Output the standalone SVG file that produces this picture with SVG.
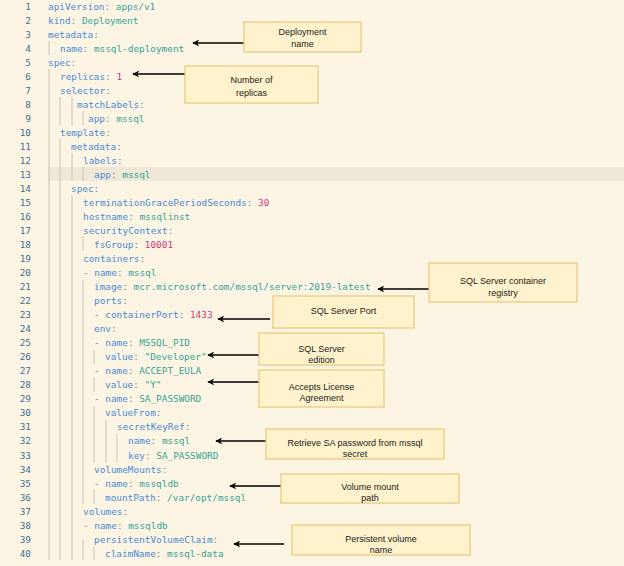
<svg xmlns="http://www.w3.org/2000/svg" width="624" height="566" viewBox="0 0 624 566">
<style>
.ln{font:9.4px "DejaVu Sans Mono",monospace;fill:#3f6f99;text-anchor:end}
.c{font:9.4px "DejaVu Sans Mono",monospace;fill:#7a8a8c}
.k{fill:#4a8ad4}.v{fill:#35a395}.n{fill:#d3367a}
.g{stroke:#c9c4b5;stroke-width:1}
.box{fill:#fff2cc;stroke:#e6c878;stroke-width:1.2}
.bt{font:9px "Liberation Sans",Arial,sans-serif;fill:#222;text-anchor:middle}
.ar{stroke:#000;stroke-width:1.5;fill:none;marker-end:url(#ah)}
</style>
<defs><marker id="ah" viewBox="0 0 10 10" refX="9" refY="5" markerWidth="7" markerHeight="7" markerUnits="userSpaceOnUse" orient="auto"><path d="M0,0L10,5L0,10L3,5Z" fill="#000"/></marker></defs>
<rect width="624" height="566" fill="#fcf5e3"/>
<rect x="48" y="167" width="576" height="14" fill="#efe8d6"/>
<g id="guides">
<line class="g" x1="49" y1="41" x2="49" y2="55"/>
<line class="g" x1="49" y1="69" x2="49" y2="560"/>
<line class="g" x1="60" y1="97" x2="60" y2="125"/>
<line class="g" x1="60" y1="139" x2="60" y2="560"/>
<line class="g" x1="72" y1="97" x2="72" y2="125"/>
<line class="g" x1="83" y1="111" x2="83" y2="125"/>
<line class="g" x1="72" y1="153" x2="72" y2="181"/>
<line class="g" x1="72" y1="195" x2="72" y2="560"/>
<line class="g" x1="83" y1="167" x2="83" y2="181"/>
<line class="g" x1="83" y1="237" x2="83" y2="251"/>
<line class="g" x1="83" y1="280" x2="83" y2="504"/>
<line class="g" x1="83" y1="540" x2="83" y2="560"/>
<line class="g" x1="94" y1="350" x2="94" y2="364"/>
<line class="g" x1="94" y1="378" x2="94" y2="392"/>
<line class="g" x1="94" y1="406" x2="94" y2="462"/>
<line class="g" x1="94" y1="490" x2="94" y2="504"/>
<line class="g" x1="94" y1="546" x2="94" y2="560"/>
<line class="g" x1="106" y1="420" x2="106" y2="462"/>
<line class="g" x1="117" y1="434" x2="117" y2="462"/>
</g>
<g id="linenumbers">
<text class="ln" x="31" y="9.5">1</text><text class="ln" x="31" y="23.5">2</text><text class="ln" x="31" y="37.6">3</text><text class="ln" x="31" y="51.6">4</text><text class="ln" x="31" y="65.6">5</text><text class="ln" x="31" y="79.7">6</text><text class="ln" x="31" y="93.7">7</text><text class="ln" x="31" y="107.7">8</text><text class="ln" x="31" y="121.7">9</text><text class="ln" x="31" y="135.8">10</text>
<text class="ln" x="31" y="149.8">11</text><text class="ln" x="31" y="163.8">12</text><text class="ln" x="31" y="177.9">13</text><text class="ln" x="31" y="191.9">14</text><text class="ln" x="31" y="205.9">15</text><text class="ln" x="31" y="219.9">16</text><text class="ln" x="31" y="234">17</text><text class="ln" x="31" y="248">18</text><text class="ln" x="31" y="262">19</text><text class="ln" x="31" y="276.1">20</text>
<text class="ln" x="31" y="290.1">21</text><text class="ln" x="31" y="304.1">22</text><text class="ln" x="31" y="318.2">23</text><text class="ln" x="31" y="332.2">24</text><text class="ln" x="31" y="346.2">25</text><text class="ln" x="31" y="360.3">26</text><text class="ln" x="31" y="374.3">27</text><text class="ln" x="31" y="388.3">28</text><text class="ln" x="31" y="402.3">29</text><text class="ln" x="31" y="416.4">30</text>
<text class="ln" x="31" y="430.4">31</text><text class="ln" x="31" y="444.4">32</text><text class="ln" x="31" y="458.5">33</text><text class="ln" x="31" y="472.5">34</text><text class="ln" x="31" y="486.5">35</text><text class="ln" x="31" y="500.5">36</text><text class="ln" x="31" y="514.6">37</text><text class="ln" x="31" y="528.6">38</text><text class="ln" x="31" y="542.6">39</text><text class="ln" x="31" y="556.7">40</text>
</g>
<g id="code">
<text class="c" x="48" y="9.5"><tspan class="k">apiVersion</tspan>: <tspan class="v">apps/v1</tspan></text>
<text class="c" x="48" y="23.5"><tspan class="k">kind</tspan>: <tspan class="v">Deployment</tspan></text>
<text class="c" x="48" y="37.6"><tspan class="k">metadata</tspan>:</text>
<text class="c" x="60" y="51.6"><tspan class="k">name</tspan>: <tspan class="v">mssql-deployment</tspan></text>
<text class="c" x="48" y="65.6"><tspan class="k">spec</tspan>:</text>
<text class="c" x="60" y="79.7"><tspan class="k">replicas</tspan>: <tspan class="n">1</tspan></text>
<text class="c" x="60" y="93.7"><tspan class="k">selector</tspan>:</text>
<text class="c" x="77" y="107.7"><tspan class="k">matchLabels</tspan>:</text>
<text class="c" x="88" y="121.7"><tspan class="k">app</tspan>: <tspan class="v">mssql</tspan></text>
<text class="c" x="60" y="135.8"><tspan class="k">template</tspan>:</text>
<text class="c" x="71" y="149.8"><tspan class="k">metadata</tspan>:</text>
<text class="c" x="83" y="163.8"><tspan class="k">labels</tspan>:</text>
<text class="c" x="94" y="177.9"><tspan class="k">app</tspan>: <tspan class="v">mssql</tspan></text>
<text class="c" x="71" y="191.9"><tspan class="k">spec</tspan>:</text>
<text class="c" x="83" y="205.9"><tspan class="k">terminationGracePeriodSeconds</tspan>: <tspan class="n">30</tspan></text>
<text class="c" x="83" y="219.9"><tspan class="k">hostname</tspan>: <tspan class="v">mssqlinst</tspan></text>
<text class="c" x="83" y="234"><tspan class="k">securityContext</tspan>:</text>
<text class="c" x="94" y="248"><tspan class="k">fsGroup</tspan>: <tspan class="n">10001</tspan></text>
<text class="c" x="83" y="262"><tspan class="k">containers</tspan>:</text>
<text class="c" x="83" y="276.1">- <tspan class="k">name</tspan>: <tspan class="v">mssql</tspan></text>
<text class="c" x="94" y="290.1"><tspan class="k">image</tspan>: <tspan class="v">mcr.microsoft.com/mssql/server:2019-latest</tspan></text>
<text class="c" x="94" y="304.1"><tspan class="k">ports</tspan>:</text>
<text class="c" x="94" y="318.2">- <tspan class="k">containerPort</tspan>: <tspan class="n">1433</tspan></text>
<text class="c" x="94" y="332.2"><tspan class="k">env</tspan>:</text>
<text class="c" x="94" y="346.2">- <tspan class="k">name</tspan>: <tspan class="v">MSSQL_PID</tspan></text>
<text class="c" x="105" y="360.3"><tspan class="k">value</tspan>: <tspan class="v">"Developer"</tspan></text>
<text class="c" x="94" y="374.3">- <tspan class="k">name</tspan>: <tspan class="v">ACCEPT_EULA</tspan></text>
<text class="c" x="105" y="388.3"><tspan class="k">value</tspan>: <tspan class="v">"Y"</tspan></text>
<text class="c" x="94" y="402.3">- <tspan class="k">name</tspan>: <tspan class="v">SA_PASSWORD</tspan></text>
<text class="c" x="105" y="416.4"><tspan class="k">valueFrom</tspan>:</text>
<text class="c" x="117" y="430.4"><tspan class="k">secretKeyRef</tspan>:</text>
<text class="c" x="128" y="444.4"><tspan class="k">name</tspan>: <tspan class="v">mssql</tspan></text>
<text class="c" x="128" y="458.5"><tspan class="k">key</tspan>: <tspan class="v">SA_PASSWORD</tspan></text>
<text class="c" x="94" y="472.5"><tspan class="k">volumeMounts</tspan>:</text>
<text class="c" x="94" y="486.5">- <tspan class="k">name</tspan>: <tspan class="v">mssqldb</tspan></text>
<text class="c" x="105" y="500.5"><tspan class="k">mountPath</tspan>: <tspan class="v">/var/opt/mssql</tspan></text>
<text class="c" x="83" y="514.6"><tspan class="k">volumes</tspan>:</text>
<text class="c" x="83" y="528.6">- <tspan class="k">name</tspan>: <tspan class="v">mssqldb</tspan></text>
<text class="c" x="94" y="542.6"><tspan class="k">persistentVolumeClaim</tspan>:</text>
<text class="c" x="105" y="556.7"><tspan class="k">claimName</tspan>: <tspan class="v">mssql-data</tspan></text>
</g>
<g id="connectors">
<line class="ar" x1="244" y1="43" x2="193" y2="43"/>
<line class="ar" x1="185" y1="74" x2="133" y2="74"/>
<line class="ar" x1="429" y1="289" x2="378" y2="289"/>
<line class="ar" x1="270" y1="319" x2="218" y2="319"/>
<line class="ar" x1="259" y1="355" x2="208" y2="355"/>
<line class="ar" x1="259" y1="382" x2="208" y2="382"/>
<line class="ar" x1="266" y1="441" x2="216" y2="441"/>
<line class="ar" x1="281" y1="486" x2="230" y2="486"/>
<line class="ar" x1="284" y1="544" x2="234" y2="544"/>
</g>
<g id="n-deployment"><rect class="box" x="244" y="22" width="117" height="30"/><text class="bt" x="302.5" y="35">Deployment</text><text class="bt" x="302.5" y="47">name</text></g>
<g id="n-replicas"><rect class="box" x="185" y="66" width="133" height="37"/><text class="bt" x="251.5" y="83">Number of</text><text class="bt" x="251.5" y="96">replicas</text></g>
<g id="n-registry"><rect class="box" x="429" y="263" width="148" height="39"/><text class="bt" x="503" y="284">SQL Server container</text><text class="bt" x="503" y="296">registry</text></g>
<g id="n-port"><rect class="box" x="273" y="296" width="141" height="32"/><text class="bt" x="343.5" y="314">SQL Server Port</text></g>
<g id="n-edition"><rect class="box" x="259" y="333" width="125" height="32"/><text class="bt" x="321.5" y="352">SQL Server</text><text class="bt" x="321.5" y="363">edition</text></g>
<g id="n-eula"><rect class="box" x="259" y="370" width="125" height="37"/><text class="bt" x="321.5" y="390">Accepts License</text><text class="bt" x="321.5" y="401">Agreement</text></g>
<g id="n-secret"><rect class="box" x="266" y="429" width="178" height="30"/><text class="bt" x="355" y="446">Retrieve SA password from mssql</text><text class="bt" x="355" y="457">secret</text></g>
<g id="n-mount"><rect class="box" x="281" y="474" width="178" height="29"/><text class="bt" x="370" y="490">Volume mount</text><text class="bt" x="370" y="501">path</text></g>
<g id="n-pv"><rect class="box" x="292" y="525" width="178" height="30"/><text class="bt" x="381" y="542">Persistent volume</text><text class="bt" x="381" y="553">name</text></g>
</svg>
